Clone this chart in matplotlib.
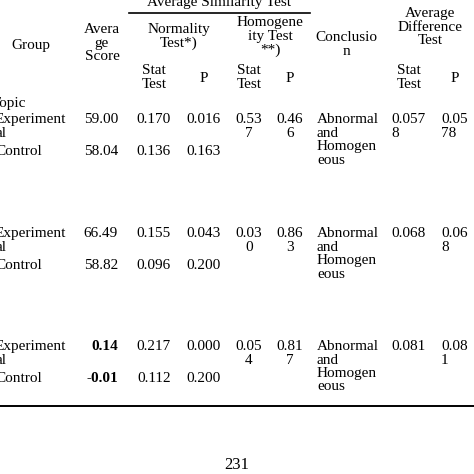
import matplotlib.pyplot as plt

plt.rcParams['font.family'] = ['Liberation Serif', 'DejaVu Serif']

groups = ["Experiment\nal", "Control"]
avg_score = [["59.00", "58.04"], ["66.49", "58.82"], ["0.14", "-0.01"]]
norm_stat = [["0.170", "0.136"], ["0.155", "0.096"], ["0.217", "0.112"]]
norm_p = [["0.016", "0.163"], ["0.043", "0.200"], ["0.000", "0.200"]]
homog_stat = ["0.53\n7", "0.03\n0", "0.05\n4"]
homog_p = ["0.46\n6", "0.86\n3", "0.81\n7"]
conclusion = "Abnormal\nand\nHomogen\neous"
diff_stat = ["0.057\n8", "0.068", "0.081"]
diff_p = ["0.05\n78", "0.06\n8", "0.08\n1"]
bold_blocks = [False, False, True]

W = H = 474
fig = plt.figure(figsize=(4.74, 4.74), dpi=100)
fig.patch.set_facecolor('white')
ax = fig.add_axes([0, 0, 1, 1])
ax.set_xlim(0, W)
ax.set_ylim(H, 0)
ax.axis('off')

fs = 11
ls = 1.05


def t(x, y, s, ha='center', va='top', **kw):
    ax.text(x, y, s, ha=ha, va=va, fontsize=fs, linespacing=ls, **kw)


# header
t(219, -4, "Average Similarity Test")
ax.plot([129, 310], [13, 13], color='black', lw=1.2)
t(31, 39, "Group")
t(102, 23, "Avera\nge\nScore")
t(179, 23, "Normality\nTest*)")
t(270, 16, "Homogene\nity Test\n**)")
t(346, 31, "Conclusio\nn")
t(430, 7, "Average\nDifference\nTest")
for x in (154, 249, 409):
    t(x, 64, "Stat\nTest")
for x in (204, 290, 455):
    t(x, 72, "P")

# body
t(-8, 97, "Topic", ha='left')
starts = [113, 227, 340]
for i, y0 in enumerate(starts):
    y1 = y0 + 32
    t(-5, y0, groups[0], ha='left')
    t(-5, y1, groups[1], ha='left')
    w = 'bold' if bold_blocks[i] else 'normal'
    t(118, y0, avg_score[i][0], ha='right', fontweight=w)
    t(118, y1, avg_score[i][1], ha='right', fontweight=w)
    t(154, y0, norm_stat[i][0])
    t(154, y1, norm_stat[i][1])
    t(204, y0, norm_p[i][0])
    t(204, y1, norm_p[i][1])
    t(249, y0, homog_stat[i])
    t(290, y0, homog_p[i])
    t(317, y0, conclusion, ha='left')
    t(391, y0, diff_stat[i], ha='left')
    t(441, y0, diff_p[i], ha='left')

ax.plot([0, W], [406, 406], color='black', lw=1.4)
ax.text(237, 457, "231", ha='center', va='top', fontsize=12)

fig.savefig("out.png", dpi=100)
